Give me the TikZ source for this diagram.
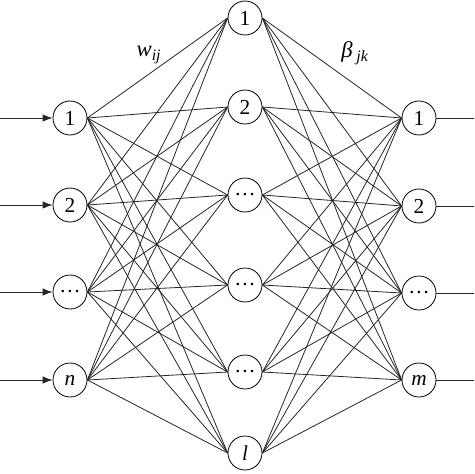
\documentclass[tikz,border=0pt]{standalone}
\usepackage{fontspec}
\setmainfont{Liberation Serif}
\usetikzlibrary{arrows.meta}

\tikzset{every picture/.style={line width=0.6pt}}
\tikzset{
  neuron/.style={draw, circle, fill=white, minimum size=25.5pt, inner sep=0pt,
                 font=\fontsize{16}{18}\selectfont},
  wlabel/.style={font=\fontsize{17}{19}\selectfont},
  wire/.style={draw=black!85},
  feed/.style={draw=black!85, -{Latex[length=7.5pt,width=5.5pt]}}
}

\begin{document}
\begin{tikzpicture}[x=0.75pt,y=0.75pt,yscale=-1,xscale=1]
    \useasboundingbox (0,0) rectangle (474,474); %diagram is 474 x 474

    %Shape: Circle input layer
    \node [neuron] (in1) at ( 70, 118) {1};
    \node [neuron] (in2) at ( 70, 205) {2};
    \node [neuron] (in3) at ( 70, 292) {\ldots};
    \node [neuron] (in4) at ( 70, 380) {\textit{n}};

    %Shape: Circle hidden layer
    \node [neuron] (hid1) at (245,  18) {1};
    \node [neuron] (hid2) at (245, 107) {2};
    \node [neuron] (hid3) at (245, 195) {\ldots};
    \node [neuron] (hid4) at (245, 285) {\ldots};
    \node [neuron] (hid5) at (245, 372) {\ldots};
    \node [neuron] (hid6) at (245, 453) {\textit{l}};

    %Shape: Circle output layer
    \node [neuron] (out1) at (419, 118) {1};
    \node [neuron] (out2) at (419, 206) {2};
    \node [neuron] (out3) at (419, 293) {\ldots};
    \node [neuron] (out4) at (419, 380) {\textit{m}};

    %Lines: input -> hidden -> output
    \foreach \i in {1,...,4}
      \foreach \j in {1,...,6}
        \draw [wire] (in\i.east) -- (hid\j.west);
    \foreach \j in {1,...,6}
      \foreach \k in {1,...,4}
        \draw [wire] (hid\j.east) -- (out\k.west);

    %Lines: incoming signals and outgoing signals
    \foreach \i/\y in {1/118, 2/205, 3/292, 4/380} {
      \coordinate (src\i) at (0, \y);
      \draw [feed] (src\i) -- (in\i.west);
    }
    \foreach \k/\y in {1/118, 2/206, 3/293, 4/380} {
      \coordinate (dst\k) at (474, \y);
      \draw [wire] (out\k.east) -- (dst\k);
    }

    %Text: weights
    \node [wlabel] (wlab) at (149, 55) {\textit{w}\textsubscript{\textit{ij}}};
    \node [wlabel] (blab) at (355, 53) {\textit{β}\,\textsubscript{\textit{jk}}};
\end{tikzpicture}
\end{document}
